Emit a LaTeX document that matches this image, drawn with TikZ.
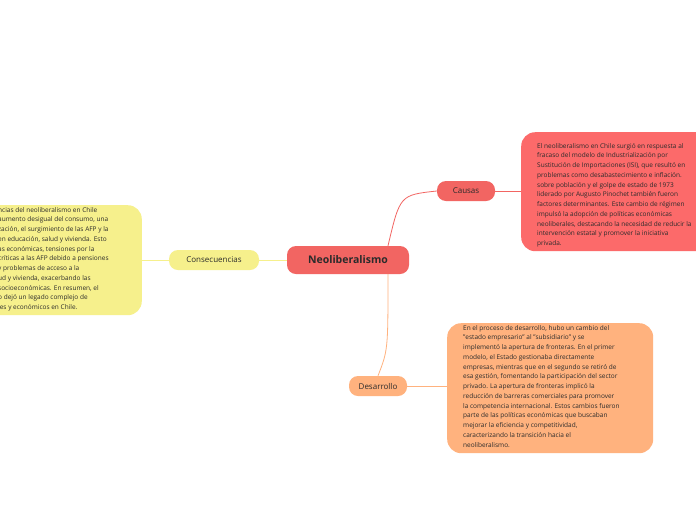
\documentclass[tikz,border=0pt]{standalone}
\usepackage{fontspec}
\setmainfont{Open Sans}
\definecolor{cred}{HTML}{F26562}
\definecolor{cboxred}{HTML}{FC6A6A}
\definecolor{cyel}{HTML}{F6F08C}
\definecolor{corg}{HTML}{FFB27E}
\definecolor{ctxt}{HTML}{2B2B2B}
\begin{document}
\begin{tikzpicture}[x=1pt,y=-1pt,
  topic/.style={rounded corners=9pt,minimum height=20pt,inner sep=0pt,font=\fontsize{8}{9}\selectfont,text=ctxt},
  body/.style={align=left,anchor=north west,inner sep=0pt,font=\fontsize{6.5}{9.75}\selectfont,text=ctxt}]
\useasboundingbox (0,0) rectangle (696,520);
\clip (0,0) rectangle (696,520);
\fill[white] (0,0) rectangle (696,520);
% boxes
\node[fill=cboxred,rounded corners=14pt,minimum width=200pt,minimum height=119pt,anchor=north west] (bc) at (521,132) {};
\node[fill=cyel,rounded corners=14pt,minimum width=190pt,minimum height=110pt,anchor=north east] (by) at (142,205) {};
\node[fill=corg,rounded corners=14pt,minimum width=206pt,minimum height=130pt,anchor=north west] (bo) at (447,323) {};
% topics
\node[topic,fill=cred,minimum width=122pt,minimum height=28pt,font=\fontsize{10.5}{12}\selectfont\bfseries] (c) at (348,260) {Neoliberalismo};
\node[topic,fill=cred,minimum width=58pt] (ca) at (466,191) {Causas};
\node[topic,fill=cyel,minimum width=90pt] (co) at (214,260) {Consecuencias};
\node[topic,fill=corg,minimum width=58pt] (de) at (378,386) {Desarrollo};
% connectors
\draw[cred,line width=0.8pt] (c.north east) ++(-14,0) coordinate (s1);
\draw[cred,line width=0.8pt] (c.north) ++(40,0) .. controls (400,195) .. (ca.west);
\draw[cred,line width=0.8pt] (ca.east) -- (bc.west |- ca.east);
\draw[cyel,line width=0.8pt] (c.west) -- (co.east);
\draw[cyel,line width=0.8pt] (co.west) -- (by.east |- co.west);
\draw[corg,line width=0.8pt] (c.south) ++(40,0) .. controls (388,350) .. (de.north);
\draw[corg,line width=0.8pt] (de.east) -- (bo.west |- de.east);
% texts
\node[body] (tc) at (537,143) {El neoliberalismo en Chile surgió en respuesta al\\
fracaso del modelo de Industrialización por\\
Sustitución de Importaciones (ISI), que resultó en\\
problemas como desabastecimiento e inflación.\\
sobre población y el golpe de estado de 1973\\
liderado por Augusto Pinochet también fueron\\
factores determinantes. Este cambio de régimen\\
impulsó la adopción de políticas económicas\\
neoliberales, destacando la necesidad de reducir la\\
intervención estatal y promover la iniciativa\\
privada.};
\node[body] (ty) at (-2,207) {ncias del neoliberalismo en Chile\\
 aumento desigual del consumo, una\\
zación, el surgimiento de las AFP y la\\
 en educación, salud y vivienda. Esto\\
as económicas, tensiones por la\\
críticas a las AFP debido a pensiones\\
y problemas de acceso a la\\
ud y vivienda, exacerbando las\\
socioeconómicas. En resumen, el\\
o dejó un legado complejo de\\
les y económicos en Chile.};
\node[body] (to) at (463,325) {En el proceso de desarrollo, hubo un cambio del\\
"estado empresario" al "subsidiario" y se\\
implementó la apertura de fronteras. En el primer\\
modelo, el Estado gestionaba directamente\\
empresas, mientras que en el segundo se retiró de\\
esa gestión, fomentando la participación del sector\\
privado. La apertura de fronteras implicó la\\
reducción de barreras comerciales para promover\\
la competencia internacional. Estos cambios fueron\\
parte de las políticas económicas que buscaban\\
mejorar la eficiencia y competitividad,\\
caracterizando la transición hacia el\\
neoliberalismo.};
\end{tikzpicture}
\end{document}
